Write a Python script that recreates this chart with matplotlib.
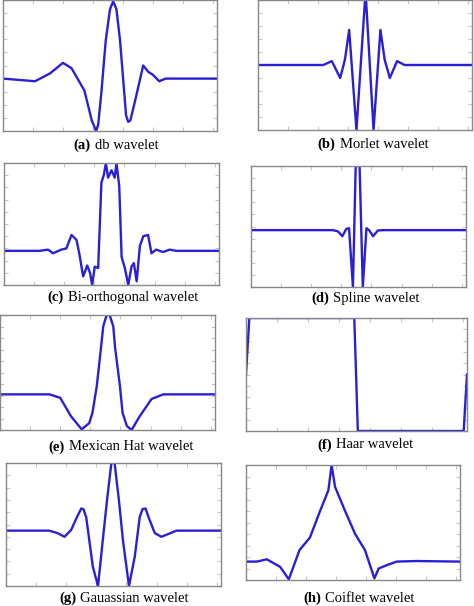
import matplotlib
matplotlib.use('Agg')
import matplotlib.pyplot as plt

#=====Curve readings (x 0-100, amplitude 0-100)=====
db_x = [0, 15, 22, 28, 32, 38, 41.5, 43.5, 44.5, 46, 48, 50, 51.5, 53, 54.7, 57.5, 58.5, 59.5,
        62, 65.5, 68, 70, 73, 76, 100]
db_y = [40, 38, 44, 52, 48, 31, 8, 0, 5, 30, 69, 93, 99, 93, 69, 12, 7, 8,
        25, 50, 45, 43, 38, 40, 40]

morlet_x = [0, 30.5, 34.5, 38.4, 40.6, 42.6, 46, 50, 50.5, 54, 57.2, 59.2, 61.6, 65, 68.5, 100]
morlet_y = [50, 50, 53, 40, 54, 77, 0, 100, 100, 0, 77, 54, 40, 53, 50, 50]

bior_x = [0, 16.6, 20.5, 22.8, 26.7, 29, 31.4, 33.7, 35, 36.8, 38.7, 40, 41, 42.2, 43.8, 45.3,
          46.4, 47.4, 48.4, 50, 51.5, 52.3, 53.6, 54.7, 56.2, 57.8, 59.3, 60.4, 61.7, 63.2,
          64.8, 67, 68.6, 70.8, 74, 77, 80, 100]
bior_y = [28, 28, 29, 26, 29, 30, 41, 37, 26, 7, 16, 10, 0, 15, 14, 84,
          90, 100, 88, 94, 88, 100, 81, 23, 14, 0, 15, 18, 3, 32,
          40, 41, 26, 29, 27, 29, 28, 28]

spline_x = [0, 38, 40.4, 42.5, 44.3, 45.6, 47.4, 48.7, 50.5, 52, 53.7, 54.9, 56.8, 59, 61.4, 100]
spline_y = [47, 47, 46, 42, 48, 48.6, 0, 100, 100, 0, 48.6, 47, 42, 46.7, 47, 47]

mexhat_x = [0, 23, 28, 33, 38, 41.5, 43, 45, 47, 48, 49.6, 51, 52.7, 53.5, 55.8, 57, 59, 61.2,
            65, 70.5, 76, 100]
mexhat_y = [31, 31, 28, 12, 0.6, 6, 15, 38, 72, 90, 100, 100, 90, 72, 38, 15, 3.5, 0,
            12, 27, 31, 31]

haar_x = [0, 1.5, 49, 50.6, 98.5, 100]
haar_y = [50, 100, 100, 0, 0, 50]

gauss_x = [0, 20, 24, 27.2, 30.3, 33, 35, 36, 37.3, 40.4, 42.8, 45, 47, 49, 50.5, 52.5, 54.4,
           57.2, 59.9, 62.2, 63.5, 64.9, 66.5, 69.2, 72.3, 79.3, 100]
gauss_y = [45, 45, 43, 40, 45.6, 56, 63, 62.5, 56, 15.5, 0, 37, 70, 100, 100, 70, 37,
           0, 24, 56, 62.5, 63, 55, 43, 40, 45, 45]

coif_x = [0, 5, 9.7, 15.9, 20, 25, 29.9, 34.6, 38.5, 40, 41.6, 46.3, 51, 55.6, 60, 62, 65.9,
          70.4, 79.7, 100]
coif_y = [16, 16, 18, 11.5, 0.6, 26, 37, 60, 78, 100, 81, 60, 40, 26, 1.4, 10, 13,
          16, 16.5, 16]

letters = ['(a)', '(b)', '(c)', '(d)', '(e)', '(f)', '(g)', '(h)']
names = ['db wavelet', 'Morlet wavelet', 'Bi-orthogonal wavelet', 'Spline wavelet',
         'Mexican Hat wavelet', 'Haar wavelet', 'Gauassian wavelet', 'Coiflet wavelet']
series = [(db_x, db_y), (morlet_x, morlet_y), (bior_x, bior_y), (spline_x, spline_y),
          (mexhat_x, mexhat_y), (haar_x, haar_y), (gauss_x, gauss_y), (coif_x, coif_y)]

#=====Panel boxes in pixels: left, top, right, bottom, caption y=====
W, H = 474, 606
boxes = [(3, 0, 217, 131, 145), (258, 0, 472, 130, 144),
         (4, 163, 219, 285, 297), (251, 166, 466, 287, 298),
         (0, 315, 215, 430, 447), (246, 318, 467, 431, 445),
         (6, 463, 221, 586, 598), (246, 465, 460, 580, 598)]

fig = plt.figure(figsize=(W / 100, H / 100), dpi=100)
plt.rcParams['font.family'] = 'Liberation Serif'

for (l, t, r, b, cy), (xs, ys), let, nm in zip(boxes, series, letters, names):
    ax = fig.add_axes([l / W, 1 - b / H, (r - l) / W, (b - t) / H])
    ax.plot(xs, ys, color='#2a1fd6', lw=1.7)
    ax.set_xlim(0, 100)
    ax.set_ylim(0, 100)
    ax.set_xticks(range(0, 101, 14))
    ax.set_yticks(range(0, 101, 10))
    ax.set_xticklabels([])
    ax.set_yticklabels([])
    ax.tick_params(direction='in', length=3, color='#c8c8c8', top=True, right=True)
    for s in ax.spines.values():
        s.set_color('#888888')
        s.set_linewidth(1.0)
    cx = (l + r) / 2 / W
    full = len(nm) * 5.2 + 22
    x0 = cx - full / 2 / W + 22 / W
    fig.text(x0 - 4 / W, 1 - cy / H, let, ha='right', va='center', fontsize=10.5, weight='bold')
    fig.text(x0, 1 - cy / H, nm, ha='left', va='center', fontsize=10.5)

fig.savefig('out.png', dpi=100)
